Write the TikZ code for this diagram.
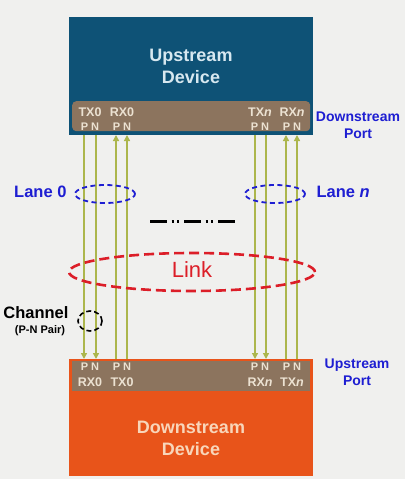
\documentclass[tikz,border=0pt]{standalone}
\usepackage{fontspec}
\setmainfont{Liberation Sans}
\usetikzlibrary{arrows.meta,shapes.geometric}
\definecolor{bgc}{RGB}{240,240,238}
\definecolor{upc}{RGB}{14,82,118}
\definecolor{strip}{RGB}{140,116,94}
\definecolor{orng}{RGB}{232,84,26}
\definecolor{wire}{RGB}{172,182,76}
\definecolor{lblue}{RGB}{30,30,210}
\definecolor{lred}{RGB}{220,30,40}
\definecolor{uptext}{RGB}{215,232,240}
\definecolor{dntext}{RGB}{248,214,186}
\definecolor{striptext}{RGB}{236,226,210}
\tikzset{
  devbox/.style={draw=none,minimum width=244pt,inner sep=0pt},
  portstrip/.style={fill=strip,draw=none,rounded corners=4pt,minimum width=238pt,minimum height=30pt,inner sep=0pt},
  devtext/.style={font=\bfseries\fontsize{18}{22}\selectfont,align=center},
  pintext/.style={font=\bfseries\fontsize{12.5}{13}\selectfont,text=striptext},
  pntext/.style={font=\bfseries\fontsize{11}{12}\selectfont,text=striptext},
  bluelbl/.style={font=\bfseries\fontsize{16.5}{18}\selectfont,text=lblue,align=center},
  portlbl/.style={font=\bfseries\fontsize{14}{17}\selectfont,text=lblue,align=center},
  wireln/.style={draw=wire,line width=1.3pt},
  wiretip/.style={-{Triangle[width=6pt,length=6pt]}},
  lanering/.style={ellipse,draw=lblue,line width=1.8pt,dash pattern=on 5pt off 3.5pt,minimum width=60pt,minimum height=18pt,inner sep=0pt}
}
\begin{document}
\begin{tikzpicture}[x=1pt,y=-1pt]
\useasboundingbox[fill=bgc] (0,0) rectangle (405,479);
% devices
\node[devbox,fill=upc,minimum height=118pt,anchor=north west] (up) at (69,17) {};
\node[portstrip,anchor=north west] (upstrip) at (72,101) {};
\node[devbox,fill=orng,minimum height=117pt,anchor=north west] (dn) at (69,359) {};
\node[portstrip,anchor=north west,rounded corners=0pt,minimum width=238pt] (dnstrip) at (72,361) {};
\node[devtext,text=uptext] (uplbl) at (191,66) {Upstream\\Device};
\node[devtext,text=dntext] (dnlbl) at (191,438) {Downstream\\Device};
% pin labels top
\node[pintext] (tx0t) at (90,112) {TX0};
\node[pintext] (rx0t) at (122,112) {RX0};
\node[pintext] (txnt) at (260,112) {TX\textit{n}};
\node[pintext] (rxnt) at (292,112) {RX\textit{n}};
\node[pntext] (pn1t) at (90,127) {P N};
\node[pntext] (pn2t) at (122,127) {P N};
\node[pntext] (pn3t) at (260,127) {P N};
\node[pntext] (pn4t) at (292,127) {P N};
% pin labels bottom
\node[pntext] (pn1b) at (90,367) {P N};
\node[pntext] (pn2b) at (122,367) {P N};
\node[pntext] (pn3b) at (260,367) {P N};
\node[pntext] (pn4b) at (292,367) {P N};
\node[pintext] (rx0b) at (90,382) {RX0};
\node[pintext] (tx0b) at (122,382) {TX0};
\node[pintext] (rxnb) at (260,382) {RX\textit{n}};
\node[pintext] (txnb) at (292,382) {TX\textit{n}};
% wires
\foreach \xx in {84,96,255,266} {
  \coordinate (a\xx) at (\xx,135);
  \coordinate (b\xx) at (\xx,359);
  \draw[wireln,wiretip] (a\xx) -- (b\xx);
}
\foreach \xx in {116,127,286,297} {
  \coordinate (a\xx) at (\xx,359);
  \coordinate (b\xx) at (\xx,135);
  \draw[wireln,wiretip] (a\xx) -- (b\xx);
}
% lanes
\node[lanering] (lane0) at (105,194) {};
\node[lanering] (lanen) at (275,194) {};
\node[bluelbl,anchor=east] (lane0l) at (70,192) {Lane 0};
\node[bluelbl,anchor=west] (lanenl) at (313,192) {Lane \textit{n}};
% dash dot
\coordinate (d0) at (150,221);
\coordinate (d1) at (235,221);
\draw[line width=3pt,dash pattern=on 17pt off 4.5pt on 2pt off 3.5pt on 2pt off 5pt] (d0) -- (d1);
% link
\node[ellipse,draw=lred,line width=2.6pt,dash pattern=on 10pt off 5pt,minimum width=246pt,minimum height=38pt,inner sep=0pt] (link) at (192,272) {};
\node[font=\fontsize{22}{24}\selectfont,text=lred] (linkl) at (192,270) {Link};
% channel
\node[ellipse,draw=black,line width=1.6pt,dash pattern=on 5pt off 3pt,minimum width=24pt,minimum height=20pt,inner sep=0pt] (chan) at (90,321) {};
\node[font=\bfseries\fontsize{16.5}{18}\selectfont,anchor=east] (chanl) at (72,313) {Channel};
\node[font=\bfseries\fontsize{11}{12}\selectfont] (pnpair) at (40,331) {(P-N Pair)};
% ports
\node[portlbl] (dport) at (358,125) {Downstream\\Port};
\node[portlbl] (uport) at (357,372) {Upstream\\Port};
\end{tikzpicture}
\end{document}
